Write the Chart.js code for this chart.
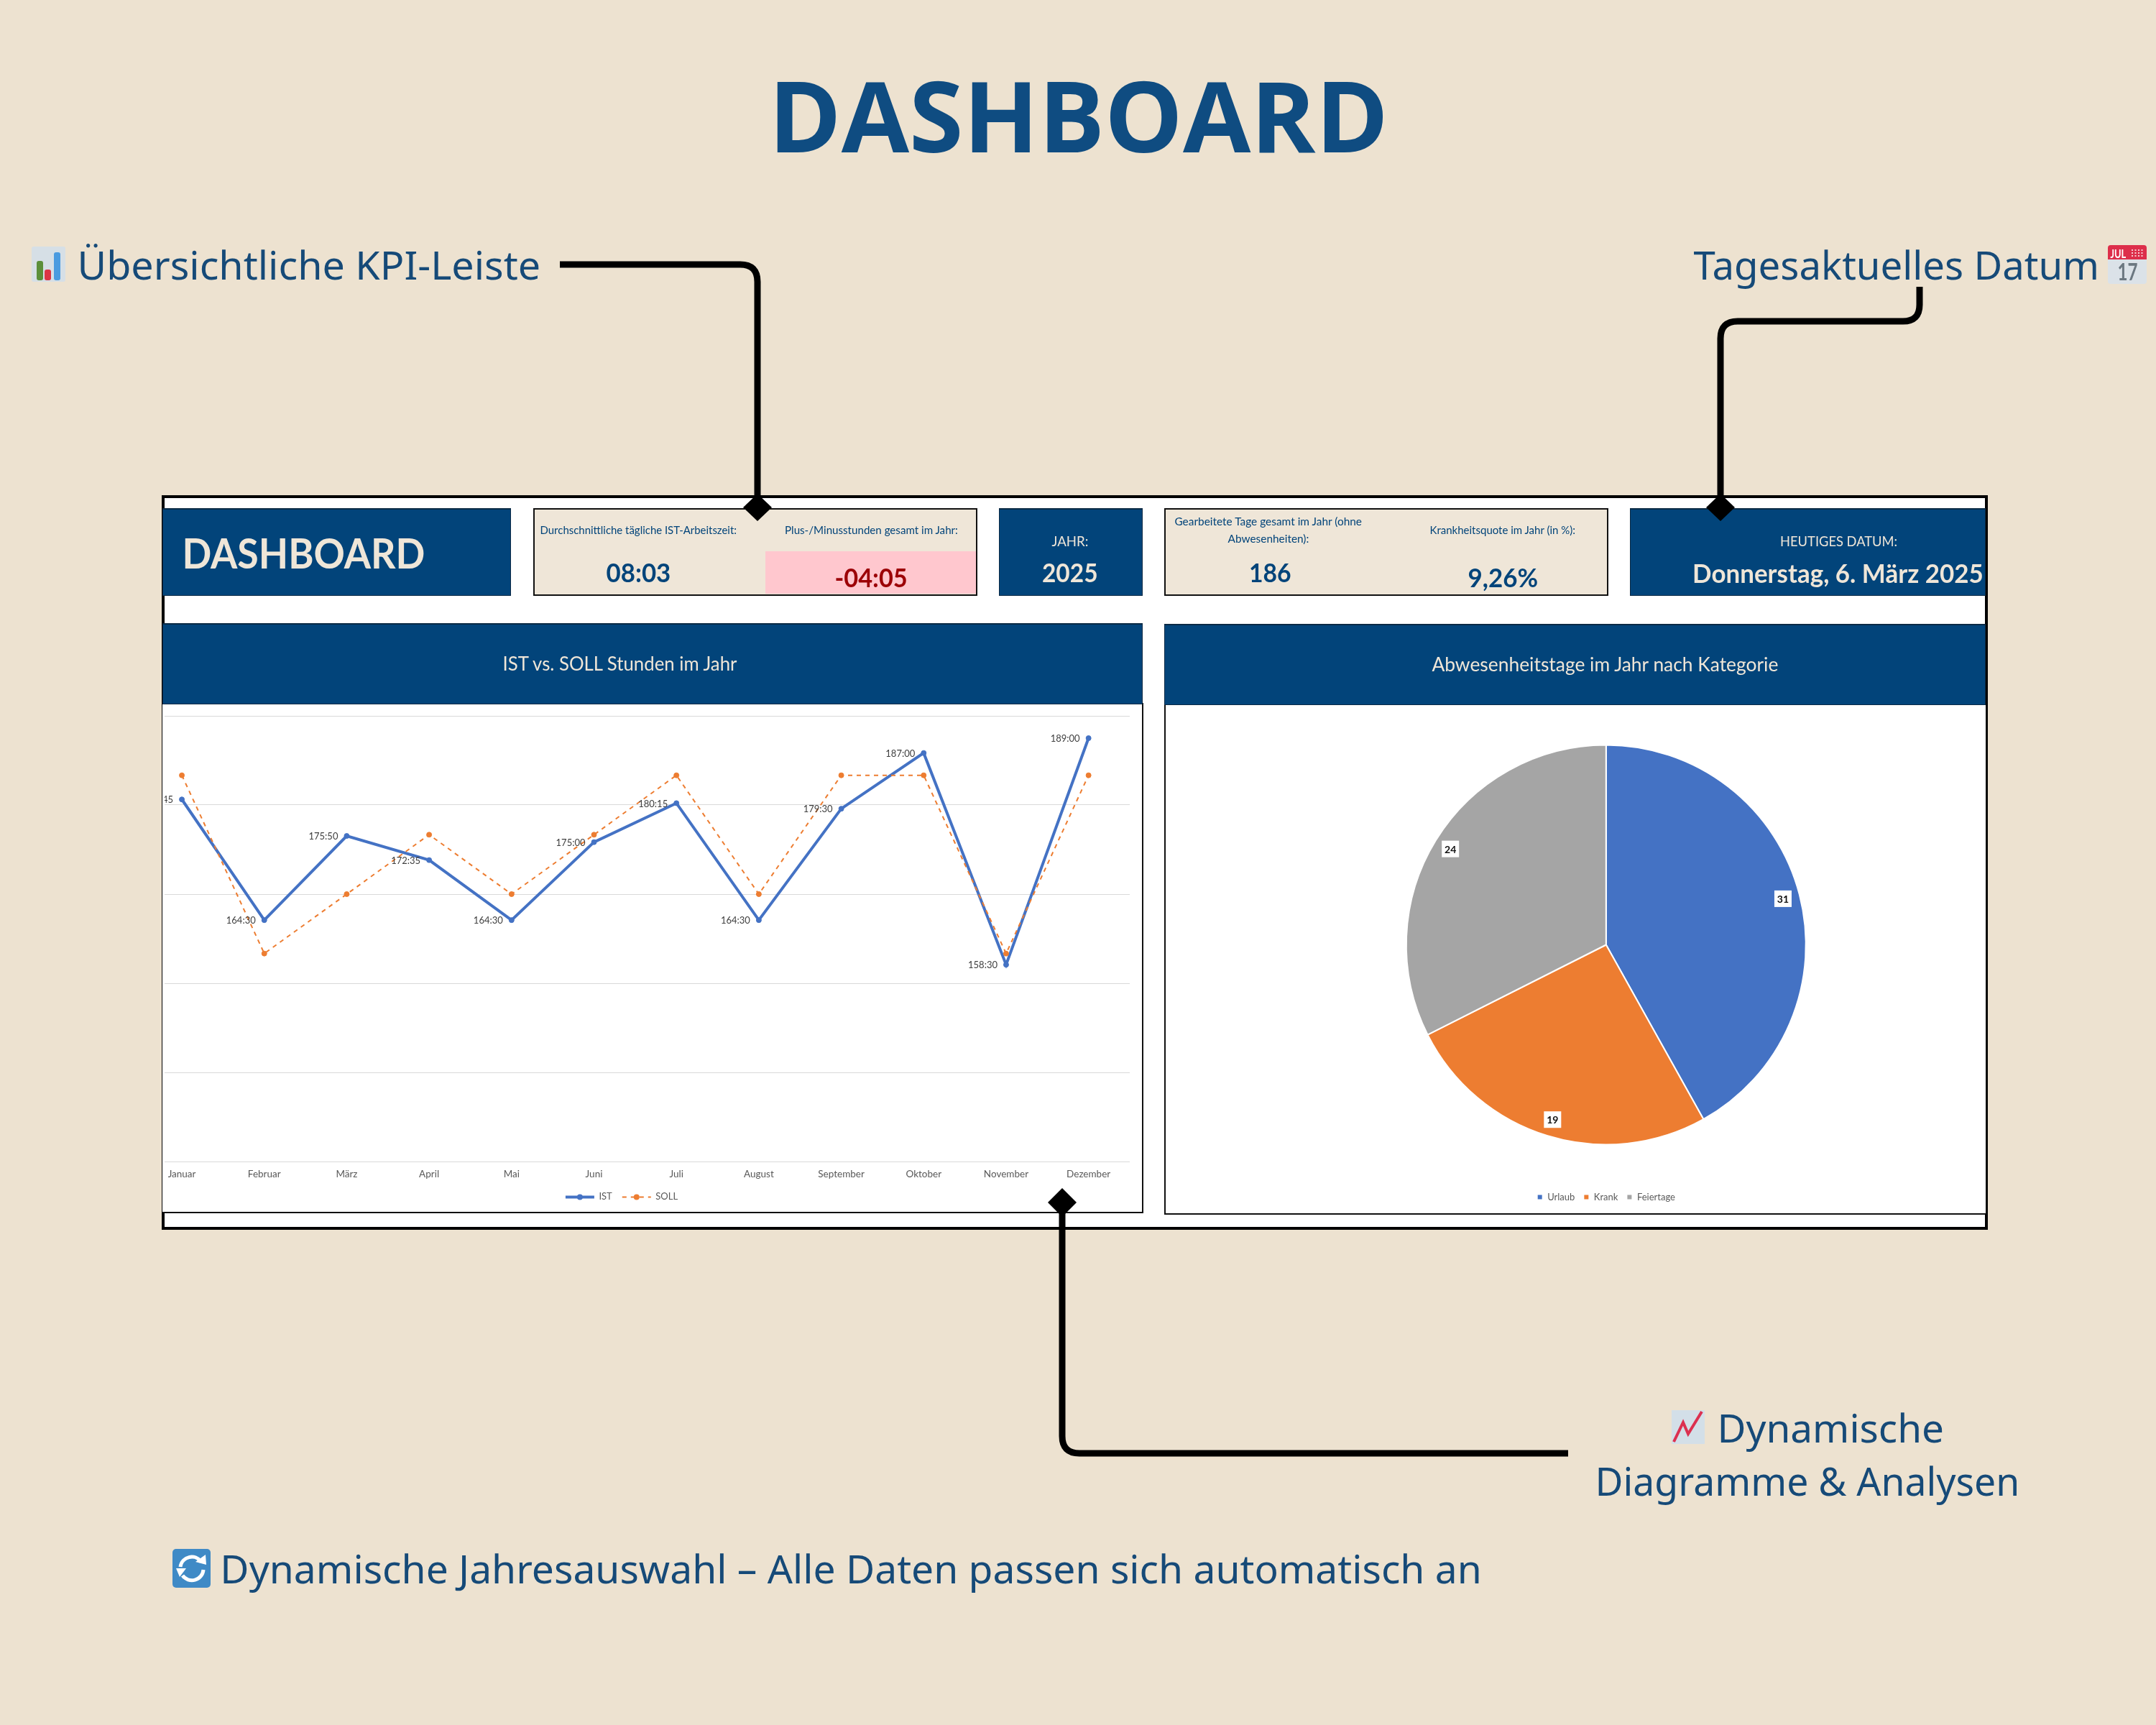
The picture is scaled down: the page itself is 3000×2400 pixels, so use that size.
<!DOCTYPE html>
<html>
  <head>
    <meta charset="utf-8">
    <script src="https://cdn.jsdelivr.net/npm/chart.js@4"></script>
    <style>
      html, body { margin: 0; padding: 0; background: #ede2d0; }
      #page { position: relative; width: 3000px; height: 2400px; overflow: hidden; background: #ede2d0; }
      .box { position: absolute; box-sizing: border-box; }
      .navy { background: #02447a; border: 1px solid #0b2a45; border-top-width: 2px; }
      .cream { background: #efe6d8; border: 2px solid #111; border-bottom-width: 2px; }
      .txt { position: absolute; white-space: nowrap; line-height: 1; transform-origin: center center; }
      canvas { position: absolute; }
      svg { position: absolute; }
    </style>
  </head>
  <body>
    <div id="page">
      <div class="box" style="left:225px;top:689px;width:2541px;height:1022px;background:#fff;border:4px solid #000"></div>

      <div class="box navy" style="left:226px;top:707px;width:485px;height:122px"></div>
      <div class="box cream" style="left:742px;top:707px;width:618px;height:122px"></div>
      <div class="box" style="left:1065px;top:767px;width:293px;height:59px;background:#ffc7ce"></div>
      <div class="box navy" style="left:1390px;top:707px;width:200px;height:122px"></div>
      <div class="box cream" style="left:1620px;top:707px;width:618px;height:122px"></div>
      <div class="box navy" style="left:2268px;top:707px;width:495px;height:122px"></div>

      <div class="box" style="left:226px;top:978px;width:1365px;height:710px;background:#fff;border:2px solid #111;border-left:0;border-top:0"></div>
      <div class="box navy" style="left:226px;top:867px;width:1364px;height:113px"></div>
      <div class="box" style="left:1620px;top:980px;width:1143px;height:710px;background:#fff;border:2px solid #111;border-right:0;border-top:0"></div>
      <div class="box navy" style="left:1620px;top:868px;width:1143px;height:113px"></div>

      <div class="box" style="left:229px;top:981px;width:1360px;height:705px;overflow:hidden">
        <canvas id="lineChart" width="1440" height="720" style="left:-79px;top:0"></canvas>
      </div>
      <canvas id="pieChart" width="1140" height="717" style="left:1622px;top:970px"></canvas>

      <svg width="3000" height="2400" style="left:0;top:0">
        <g fill="none" stroke="#000" stroke-width="9">
          <path d="M779 368 H1030 Q1054 368 1054 392 V700"/>
          <path d="M2671 399 V424 Q2671 447 2648 447 H2418 Q2394 447 2394 471 V700"/>
          <path d="M2182 2022 H1502 Q1478 2022 1478 1998 V1680"/>
        </g>
        <g fill="#000">
          <path d="M1054 687 L1074 706 L1054 725 L1034 706 Z"/>
          <path d="M2394 687 L2414 706 L2394 725 L2374 706 Z"/>
          <path d="M1478 1653 L1498 1673 L1478 1693 L1458 1673 Z"/>
        </g>
        <!-- small icons instead of emoji, no emoji font on the box -->
        <g>
          <rect x="44" y="343" width="47" height="49" rx="3" fill="#d6dfe6"/>
          <rect x="51" y="363" width="9" height="27" rx="3" fill="#5c8f3a"/>
          <rect x="62" y="375" width="9" height="15" rx="3" fill="#dc3545"/>
          <rect x="75" y="351" width="9" height="39" rx="3" fill="#4a9be0"/>
        </g>
        <g>
          <rect x="2933" y="342" width="54" height="53" rx="4" fill="#dbe2e8"/>
          <path d="M2933 361 V345 Q2933 341 2937 341 H2983 Q2987 341 2987 345 V361 Z" fill="#dd2e4a"/>
          <path d="M2966 348 H2983 M2966 352 H2983 M2966 356 H2983" fill="none" stroke="#f6c9d0" stroke-width="2" stroke-dasharray="2 2.5"/>
        </g>
        <g>
          <rect x="2326" y="1962" width="46" height="47" fill="#d3dfe8"/>
          <path d="M2329 2006 L2342 1979 L2349 1995 L2368 1964" fill="none" stroke="#dc3050" stroke-width="4"/>
        </g>
        <g>
          <rect x="240" y="2155" width="53" height="54" rx="5" fill="#3f8ac6"/>
          <path d="M251 2180 A16 16 0 0 1 280 2173 M283 2184 A16 16 0 0 1 254 2192" fill="none" stroke="#fff" stroke-width="5"/>
          <path d="M272 2173 L287 2177 L286 2163 Z M245 2182 L259 2182 L250 2194 Z" fill="#fff"/>
        </g>
      </svg>
    </div>

    <script>
      const months = ["Januar", "Februar", "März", "April", "Mai", "Juni", "Juli", "August", "September", "Oktober", "November", "Dezember"];
      const istTimes = ["180:45", "164:30", "175:50", "172:35", "164:30", "175:00", "180:15", "164:30", "179:30", "187:00", "158:30", "189:00"];
      const sollHours = [184, 160, 168, 176, 168, 176, 184, 168, 184, 184, 160, 184];
      const absenceLabels = ["Urlaub", "Krank", "Feiertage"];
      const absenceDays = [31, 19, 24];

      const NAVY = "#02447a";
      const CREAM = "#efe6d8";
      const INK = "#164a78";
      const page = document.getElementById("page");

      // every text is squeezed to the width measured in the picture (Calibri is narrower than Lato)
      function txt(str, cx, cy, width, size, weight, color, font) {
        const el = document.createElement("div");
        el.className = "txt";
        el.textContent = str;
        el.style.font = weight + " " + size + "px " + (font || "Lato");
        el.style.lineHeight = "1";
        el.style.color = color;
        page.appendChild(el);
        const sx = width / el.offsetWidth;
        el.style.left = (cx - el.offsetWidth / 2) + "px";
        el.style.top = (cy - el.offsetHeight / 2) + "px";
        el.style.transform = "scaleX(" + sx.toFixed(3) + ")";
      }

      // big texts
      txt("DASHBOARD", 1500, 160, 862, 136, 700, "#0f4c81", "Open Sans");
      txt("Übersichtliche KPI-Leiste", 430, 367, 645, 55, 400, INK, "Noto Sans");
      txt("Tagesaktuelles Datum", 2639, 367, 565, 55, 400, INK, "Noto Sans");
      txt("Dynamische", 2547, 1985, 315, 55, 400, INK, "Noto Sans");
      txt("Diagramme & Analysen", 2515, 2059, 591, 55, 400, INK, "Noto Sans");
      txt("Dynamische Jahresauswahl – Alle Daten passen sich automatisch an", 1184, 2181, 1755, 55, 400, INK, "Noto Sans");

      // kpi bar
      txt("DASHBOARD", 422, 769, 338, 57, 700, CREAM);
      txt("Durchschnittliche tägliche IST-Arbeitszeit:", 888, 737, 274, 15, 400, NAVY);
      txt("Plus-/Minusstunden gesamt im Jahr:", 1212, 737, 241, 15, 400, NAVY);
      txt("08:03", 888, 796, 90, 36, 700, NAVY);
      txt("-04:05", 1212, 803, 101, 36, 700, "#9c0006");
      txt("JAHR:", 1489, 752, 51, 19, 400, CREAM);
      txt("2025", 1489, 796, 78, 36, 700, CREAM);
      txt("Gearbeitete Tage gesamt im Jahr (ohne", 1764, 725, 260, 15, 400, NAVY);
      txt("Abwesenheiten):", 1765, 749, 113, 15, 400, NAVY);
      txt("186", 1767, 796, 59, 36, 700, NAVY);
      txt("Krankheitsquote im Jahr (in %):", 2091, 737, 203, 15, 400, NAVY);
      txt("9,26%", 2091, 803, 98, 36, 700, NAVY);
      txt("HEUTIGES DATUM:", 2558, 752, 163, 19, 400, CREAM);
      txt("Donnerstag, 6. März 2025", 2557, 797, 405, 36, 700, CREAM);
      txt("IST vs. SOLL Stunden im Jahr", 862, 923, 326, 26, 400, CREAM);
      txt("Abwesenheitstage im Jahr nach Kategorie", 2233, 924, 482, 26, 400, CREAM);
      // calendar icon text
      txt("JUL", 2947, 352, 22, 17, 700, "#fff");
      txt("17", 2960, 378, 28, 32, 700, "#6b7780");

      Chart.defaults.font.family = "Lato";
      Chart.defaults.animation = false;

      const toHours = t => { const p = t.split(":"); return +p[0] + p[1] / 60; };

      // labels left of the IST points, as in the excel sheet
      const istLabelPlugin = {
        id: "istLabels",
        afterDatasetsDraw(chart) {
          const ctx = chart.ctx;
          const meta = chart.getDatasetMeta(0);
          ctx.save();
          ctx.font = "13px Lato";
          ctx.fillStyle = "#404040";
          ctx.textAlign = "right";
          ctx.textBaseline = "middle";
          meta.data.forEach((pt, i) => ctx.fillText(istTimes[i], pt.x - 12, pt.y + 1));
          ctx.restore();
        },
        afterDraw(chart) {
          // legend keys: line plus marker, the default box would double the dashes
          const ctx = chart.ctx;
          chart.legend.legendHitBoxes.forEach((b, i) => {
            const ds = chart.data.datasets[i];
            const y = b.top + 7;
            ctx.save();
            ctx.strokeStyle = ds.borderColor;
            ctx.lineWidth = ds.borderWidth;
            ctx.setLineDash(ds.borderDash || []);
            ctx.beginPath();
            ctx.moveTo(b.left, y);
            ctx.lineTo(b.left + 40, y);
            ctx.stroke();
            ctx.restore();
            ctx.beginPath();
            ctx.arc(b.left + 20, y, 4, 0, Math.PI * 2);
            ctx.fillStyle = ds.borderColor;
            ctx.fill();
          });
        }
      };

      new Chart(document.getElementById("lineChart"), {
        type: "line",
        data: {
          labels: months,
          datasets: [
            { label: "IST", data: istTimes.map(toHours), borderColor: "#4472c4", backgroundColor: "#4472c4", borderWidth: 4, pointRadius: 3.5, pointBorderWidth: 1, tension: 0, order: 2 },
            { label: "SOLL", data: sollHours, borderColor: "#ed7d31", backgroundColor: "#ed7d31", borderWidth: 2, borderDash: [6, 6], pointRadius: 3.5, pointBorderWidth: 1, tension: 0, order: 1 }
          ]
        },
        options: {
          responsive: false,
          layout: { padding: { left: 8, right: 18, top: 15, bottom: 19.5 } },
          plugins: {
            tooltip: { enabled: false },
            legend: {
              position: "bottom",
              labels: {
                boxWidth: 40, boxHeight: 0, padding: 14, color: "#595959", font: { size: 13 },
                sort: (a, b) => a.datasetIndex - b.datasetIndex,
                generateLabels: chart => Chart.defaults.plugins.legend.labels.generateLabels(chart).map(l => ({ ...l, lineWidth: 0 }))
              }
            }
          },
          scales: {
            x: {
              offset: true,
              afterFit: s => { s.height = 28.5; },
              grid: { display: false, drawTicks: false },
              border: { display: false },
              ticks: { color: "#595959", font: { size: 13.5 }, padding: 9.5, maxRotation: 0, autoSkip: false }
            },
            y: {
              min: 132,
              max: 192,
              afterFit: s => { s.width = 37.7; },
              grid: { color: "#d9d9d9", lineWidth: 1, drawTicks: false },
              border: { display: false },
              ticks: { display: false, stepSize: 12 }
            }
          }
        },
        plugins: [istLabelPlugin]
      });

      const pieLabelPlugin = {
        id: "pieLabels",
        afterDatasetsDraw(chart) {
          const ctx = chart.ctx;
          chart.getDatasetMeta(0).data.forEach((arc, i) => {
            const mid = (arc.startAngle + arc.endAngle) / 2;
            const r = arc.outerRadius * 0.915;
            const x = arc.x + Math.cos(mid) * r;
            const y = arc.y + Math.sin(mid) * r;
            ctx.fillStyle = "#fff";
            ctx.fillRect(x - 12, y - 11.5, 24, 23);
            ctx.fillStyle = "#111";
            ctx.font = "bold 14px Lato";
            ctx.textAlign = "center";
            ctx.textBaseline = "middle";
            ctx.fillText(absenceDays[i], x, y + 1);
          });
        }
      };

      new Chart(document.getElementById("pieChart"), {
        type: "pie",
        data: {
          labels: absenceLabels,
          datasets: [{
            data: absenceDays,
            backgroundColor: ["#4472c4", "#ed7d31", "#a5a5a5"],
            borderColor: "#fff",
            borderWidth: 2,
            radius: 278
          }]
        },
        options: {
          responsive: false,
          layout: { padding: { left: 85.6, top: 12, bottom: 5 } },
          plugins: {
            tooltip: { enabled: false },
            legend: {
              position: "bottom",
              labels: { boxWidth: 8, boxHeight: 8, padding: 12, color: "#595959", font: { size: 13 } }
            }
          }
        },
        plugins: [pieLabelPlugin]
      });
    </script>
  </body>
</html>
